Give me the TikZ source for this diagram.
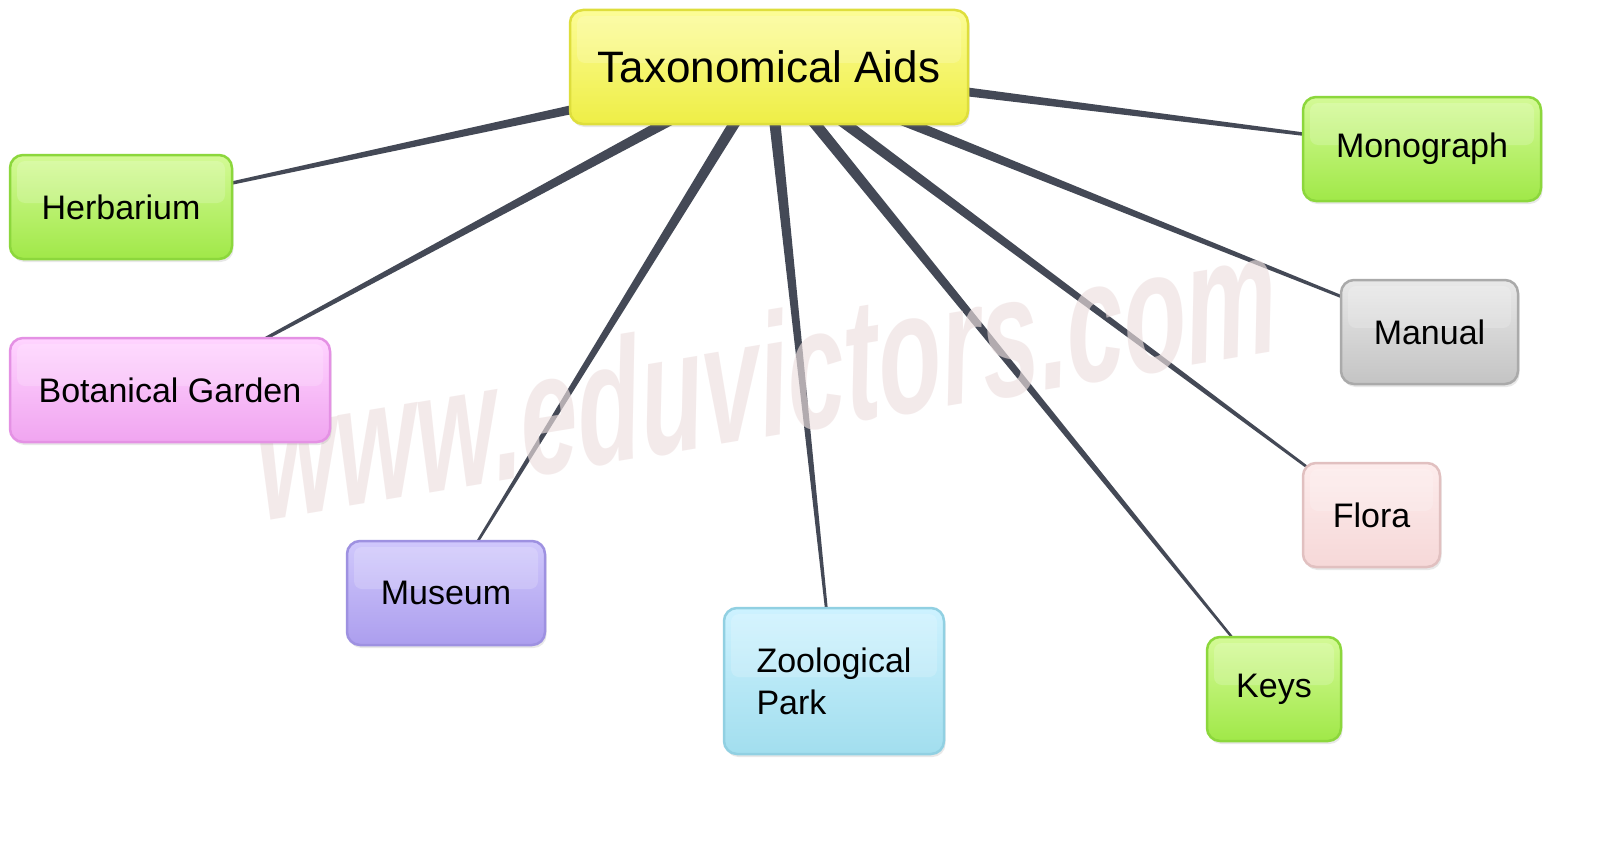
\documentclass[tikz,border=0pt]{standalone}
\usepackage{fontspec}
\setmainfont{Liberation Sans}
\usetikzlibrary{calc,shadows}
\pgfdeclarelayer{bg}
\pgfdeclarelayer{wm}
\pgfsetlayers{bg,wm,main}
\definecolor{linec}{RGB}{68,73,86}
\definecolor{yT}{RGB}{252,252,150}\definecolor{yB}{RGB}{238,238,70}\definecolor{yD}{RGB}{222,222,60}
\definecolor{gT}{RGB}{212,250,150}\definecolor{gB}{RGB}{160,232,72}\definecolor{gD}{RGB}{140,215,60}
\definecolor{pT}{RGB}{255,212,255}\definecolor{pB}{RGB}{240,165,240}\definecolor{pD}{RGB}{228,145,228}
\definecolor{vT}{RGB}{208,200,252}\definecolor{vB}{RGB}{172,158,238}\definecolor{vD}{RGB}{158,145,225}
\definecolor{cT}{RGB}{205,242,255}\definecolor{cB}{RGB}{162,222,238}\definecolor{cD}{RGB}{145,208,226}
\definecolor{mT}{RGB}{232,232,232}\definecolor{mB}{RGB}{196,196,196}\definecolor{mD}{RGB}{170,170,170}
\definecolor{fT}{RGB}{253,236,236}\definecolor{fB}{RGB}{246,216,216}\definecolor{fD}{RGB}{225,192,192}
\definecolor{wmc}{RGB}{238,224,224}
\newcommand\tapline[2]{%
  \fill[linec] ($(#1)!6pt!90:(#2)$) -- ($(#1)!6pt!-90:(#2)$) -- ($(#2)!0.8pt!90:(#1)$) -- ($(#2)!0.8pt!-90:(#1)$) -- cycle;}
\begin{document}
\begin{tikzpicture}[x=1pt,y=-1pt,
  box/.style={rounded corners=13pt, line width=2.5pt, minimum height=104pt, inner sep=0pt,
    drop shadow={opacity=0.18,shadow xshift=1.5pt,shadow yshift=-3pt},
    font=\fontsize{34}{42}\selectfont,
    path picture={\fill[white,opacity=0.18,rounded corners=8pt]
      ($(path picture bounding box.north west)+(7pt,-6pt)$) rectangle
      ($(path picture bounding box.east)+(-7pt,4pt)$);}},
  ybox/.style={box, draw=yD, top color=yT, bottom color=yB},
  gbox/.style={box, draw=gD, top color=gT, bottom color=gB},
  pbox/.style={box, draw=pD, top color=pT, bottom color=pB},
  vbox/.style={box, draw=vD, top color=vT, bottom color=vB},
  cbox/.style={box, draw=cD, top color=cT, bottom color=cB},
  mbox/.style={box, draw=mD, top color=mT, bottom color=mB},
  fbox/.style={box, draw=fD, top color=fT, bottom color=fB},
  wmark/.style={text=wmc, text opacity=0.65, font=\bfseries\itshape\fontsize{125}{125}\selectfont, inner sep=0pt}
]
\node[ybox, minimum width=398pt, minimum height=114pt, font=\fontsize{44}{50}\selectfont] (tc) at (769,67) {Taxonomical Aids};
\node[gbox, minimum width=222pt] (hb) at (121,207) {Herbarium};
\node[pbox, minimum width=320pt] (bg) at (170,390) {Botanical Garden};
\node[vbox, minimum width=198pt] (mu) at (446,593) {Museum};
\node[cbox, minimum width=220pt, minimum height=146pt, align=left] (zp) at (834,681) {Zoological\\Park};
\node[gbox, minimum width=134pt] (ky) at (1274,689) {Keys};
\node[fbox, minimum width=137pt] (fl) at (1371.5,515) {Flora};
\node[mbox, minimum width=177pt] (mn) at (1429.5,332) {Manual};
\node[gbox, minimum width=238pt] (mg) at (1422,149) {Monograph};

\begin{pgfonlayer}{bg}
\fill[white] (0,0) rectangle (1600,843);
\tapline{tc}{hb}
\tapline{tc}{bg}
\tapline{tc}{mu}
\tapline{tc}{zp}
\tapline{tc}{ky}
\tapline{tc}{fl}
\tapline{tc}{mn}
\tapline{tc}{mg}
\end{pgfonlayer}

\begin{pgfonlayer}{wm}
\node[wmark, anchor=base, rotate=9.5, xscale=0.83, yscale=1.38, xslant=0.12] (wm) at (772,436) {www.eduvictors.com};
\end{pgfonlayer}
\pgfresetboundingbox
\useasboundingbox (0,0) rectangle (1600,843);
\end{tikzpicture}
\end{document}
